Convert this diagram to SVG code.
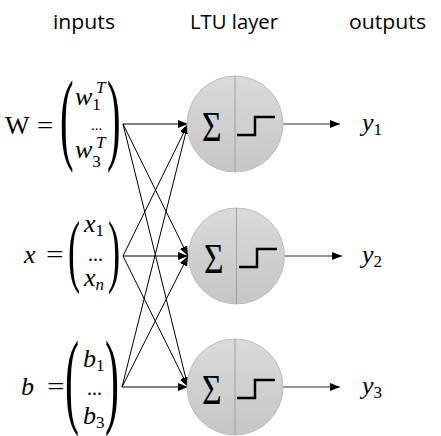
<svg xmlns="http://www.w3.org/2000/svg" width="441" height="436" viewBox="0 0 441 436">
<style>
.hdr{font-family:"Open Sans","Liberation Sans",sans-serif;font-size:20px;fill:#000}
.m{font-family:"Liberation Serif",serif;font-style:italic;font-size:26px;fill:#000}
.mu{font-family:"Liberation Serif",serif;font-size:26px;fill:#000}
.sub{font-family:"Liberation Serif",serif;font-size:17px;font-style:normal}
.subi{font-family:"Liberation Serif",serif;font-size:17px;font-style:italic}
.dt{font-family:"Liberation Serif",serif;font-size:20px;font-style:normal}
.dts{font-family:"Liberation Serif",serif;font-size:15px;font-style:normal}
.par{font-family:"Liberation Serif",serif;fill:#000}
.edge{stroke:#000;stroke-width:1;fill:none;marker-end:url(#ah)}
.out{stroke:#333;stroke-width:1.2;fill:none;marker-end:url(#ah)}
.cir{fill:url(#g);stroke:#bdbdbd;stroke-width:1}
.div{stroke:#a0a0a0;stroke-width:1}
.sig{font-family:"Liberation Serif",serif;font-size:42px;fill:#000}
.step{stroke:#000;stroke-width:2.5;fill:none}
</style>
<defs>
<linearGradient id="g" x1="0" y1="0" x2="0" y2="1">
<stop offset="0" stop-color="#dadada"/>
<stop offset="1" stop-color="#c6c6c6"/>
</linearGradient>
<marker id="ah" markerWidth="10" markerHeight="8" refX="10" refY="4" orient="auto" markerUnits="userSpaceOnUse">
<path d="M0,0 L10,4 L0,8 z" fill="#000"/>
</marker>
</defs>
<g id="headers">
<text class="hdr" x="53" y="29" textLength="62" lengthAdjust="spacingAndGlyphs">inputs</text>
<text class="hdr" x="190" y="29" textLength="88" lengthAdjust="spacingAndGlyphs">LTU layer</text>
<text class="hdr" x="349" y="29" textLength="77" lengthAdjust="spacingAndGlyphs">outputs</text>
</g>
<g id="connectors">
<line class="edge" x1="123" y1="124" x2="188" y2="124"/>
<line class="edge" x1="123" y1="124" x2="188" y2="256"/>
<line class="edge" x1="123" y1="124" x2="188" y2="387"/>
<line class="edge" x1="123" y1="256" x2="188" y2="124"/>
<line class="edge" x1="123" y1="256" x2="188" y2="256"/>
<line class="edge" x1="123" y1="256" x2="188" y2="387"/>
<line class="edge" x1="122" y1="387" x2="188" y2="124"/>
<line class="edge" x1="122" y1="387" x2="188" y2="256"/>
<line class="edge" x1="122" y1="387" x2="188" y2="387"/>
<line class="out" x1="283" y1="124" x2="340" y2="124"/>
<line class="out" x1="284" y1="256" x2="342" y2="256"/>
<line class="out" x1="283" y1="387" x2="340" y2="387"/>
</g>
<g id="input-W">
<text class="mu" font-size="29" x="5" y="134">W</text>
<text class="mu" transform="translate(37,134) scale(1.1,1)">=</text>
<text class="par" font-size="102" transform="translate(60,151) scale(0.4,1)">(</text>
<text class="m"><tspan x="75" y="105">w</tspan><tspan class="sub" dy="5">1</tspan><tspan class="subi" x="96" y="93">T</tspan><tspan class="dts" x="91" y="130">...</tspan><tspan x="75" y="158">w</tspan><tspan class="sub" dy="9">3</tspan><tspan class="subi" x="96" y="148">T</tspan></text>
<text class="par" font-size="102" transform="translate(107,151) scale(0.4,1)">)</text>
</g>
<g id="input-x">
<text class="m" x="24" y="263">x</text>
<text class="mu" transform="translate(46,263) scale(1.2,1)">=</text>
<text class="par" font-size="81" transform="translate(68,277) scale(0.45,1)">(</text>
<text class="m"><tspan x="84" y="232">x</tspan><tspan class="sub" dy="4">1</tspan><tspan class="dt" x="88" y="261">...</tspan><tspan x="84" y="286">x</tspan><tspan class="subi" dy="4">n</tspan></text>
<text class="par" font-size="81" transform="translate(108,277) scale(0.45,1)">)</text>
</g>
<g id="input-b">
<text class="m" x="21" y="395">b</text>
<text class="mu" transform="translate(47,395) scale(1.2,1)">=</text>
<text class="par" font-size="105" transform="translate(65,414) scale(0.4,1)">(</text>
<text class="m"><tspan x="83" y="367">b</tspan><tspan class="sub" dy="4">1</tspan><tspan class="dt" x="87" y="395">...</tspan><tspan x="83" y="424">b</tspan><tspan class="sub" dy="4">3</tspan></text>
<text class="par" font-size="105" transform="translate(105,414) scale(0.4,1)">)</text>
</g>
<g id="ltu1">
<circle class="cir" cx="235" cy="124" r="48"/>
<line class="div" x1="235" y1="76" x2="235" y2="172"/>
<text class="sig" transform="translate(202,141) scale(0.8,1)">Σ</text>
<path class="step" d="M237,135 H255 V117 H275"/>
</g>
<g id="ltu2">
<circle class="cir" cx="236.5" cy="256" r="48"/>
<line class="div" x1="236.5" y1="208" x2="236.5" y2="304"/>
<text class="sig" transform="translate(204,273) scale(0.8,1)">Σ</text>
<path class="step" d="M239,267 H257 V249 H277"/>
</g>
<g id="ltu3">
<circle class="cir" cx="235" cy="387" r="48"/>
<line class="div" x1="235" y1="339" x2="235" y2="435"/>
<text class="sig" transform="translate(202,404) scale(0.8,1)">Σ</text>
<path class="step" d="M237,398 H255 V380 H275"/>
</g>
<g id="outputs">
<text class="m" x="362" y="131">y<tspan class="sub" dy="4">1</tspan></text>
<text class="m" x="362" y="263">y<tspan class="sub" dy="4">2</tspan></text>
<text class="m" x="362" y="394">y<tspan class="sub" dy="4">3</tspan></text>
</g>
</svg>
